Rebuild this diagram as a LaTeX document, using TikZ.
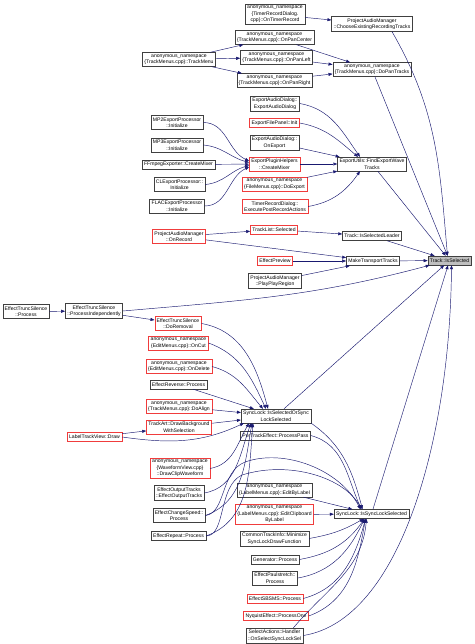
\documentclass[tikz,border=0pt]{standalone}
\usepackage{fontspec}
\setmainfont{Liberation Sans}
\usetikzlibrary{arrows.meta}
\definecolor{edgeblue}{HTML}{191970}
\definecolor{undocred}{HTML}{F03C3C}
\definecolor{cursel}{HTML}{BFBFBF}
\begin{document}
\begin{tikzpicture}[x=1pt, y=-1pt,
    fnbox/.style={draw=black!75, fill=white, line width=0.45pt, inner xsep=2pt, inner ysep=1.8pt,
      minimum height=9pt, align=center, font=\fontsize{5.1}{6.5}\selectfont},
    undoc/.style={fnbox, draw=undocred},
    calls/.style={draw=edgeblue, line width=0.45pt, -{Triangle[length=4pt,width=3pt]}}]
    \useasboundingbox (0,0) rectangle (474,644);

    % aufrufer oben
    \node[fnbox] (tmr) at (275,14.5) {anonymous\_namespace\\\{TimerRecordDialog.\\cpp\}::OnTimerRecord};
    \node[fnbox] (cert) at (372,24) {ProjectAudioManager\\::ChooseExistingRecordingTracks};
    \node[fnbox] (opc) at (274.5,37.5) {anonymous\_namespace\\\{TrackMenus.cpp\}::OnPanCenter};
    \node[fnbox] (tmn) at (179,59.5) {anonymous\_namespace\\\{TrackMenus.cpp\}::TrackMenu};
    \node[fnbox] (opl) at (276.5,57.5) {anonymous\_namespace\\\{TrackMenus.cpp\}::OnPanLeft};
    \node[fnbox] (opr) at (274.5,80.5) {anonymous\_namespace\\\{TrackMenus.cpp\}::OnPanRight};
    \node[fnbox] (dpt) at (372,69.5) {anonymous\_namespace\\\{TrackMenus.cpp\}::DoPanTracks};

    % export
    \node[fnbox] (ead) at (275,103.5) {ExportAudioDialog::\\ExportAudioDialog};
    \node[undoc] (efp) at (274.5,123) {ExportFilePanel::Init};
    \node[fnbox] (eoe) at (274.5,142.5) {ExportAudioDialog::\\OnExport};
    \node[fnbox] (mp2) at (177,122.5) {MP2ExportProcessor\\::Initialize};
    \node[fnbox] (mp3) at (177,145) {MP3ExportProcessor\\::Initialize};
    \node[fnbox] (ffm) at (178.5,164.5) {FFmpegExporter::CreateMixer};
    \node[fnbox] (cle) at (179.5,184.5) {CLExportProcessor::\\Initialize};
    \node[fnbox] (flac) at (177,206) {FLACExportProcessor\\::Initialize};
    \node[undoc] (eph) at (274.5,164) {ExportPluginHelpers\\::CreateMixer};
    \node[undoc] (fdx) at (274.5,184) {anonymous\_namespace\\\{FileMenus.cpp\}::DoExport};
    \node[undoc] (tep) at (275,206.5) {TimerRecordDialog::\\ExecutePostRecordActions};
    \node[fnbox] (few) at (372,164) {ExportUtils::FindExportWave\\Tracks};

    % wiedergabe / aufnahme
    \node[undoc] (orec) at (179,236.5) {ProjectAudioManager\\::OnRecord};
    \node[undoc] (tls) at (274,229.5) {TrackList::Selected};
    \node[fnbox] (isl) at (372,236) {Track::IsSelectedLeader};
    \node[undoc] (epv) at (275,261) {EffectPreview};
    \node[fnbox] (mtt) at (373,261) {MakeTransportTracks};
    \node[fnbox] (ppr) at (275,281) {ProjectAudioManager\\::PlayPlayRegion};
    \node[fnbox, fill=cursel] (iss) at (449.5,260.5) {Track::IsSelected};

    % effekte
    \node[fnbox] (tsp) at (26,311.5) {EffectTruncSilence\\::Process};
    \node[fnbox] (tsi) at (94,311) {EffectTruncSilence\\::ProcessIndependently};
    \node[undoc] (tsd) at (178,323.5) {EffectTruncSilence\\::DoRemoval};
    \node[undoc] (ocut) at (178.5,343) {anonymous\_namespace\\\{EditMenus.cpp\}::OnCut};
    \node[undoc] (odel) at (179,366.5) {anonymous\_namespace\\\{EditMenus.cpp\}::OnDelete};
    \node[fnbox] (erev) at (178.5,384.5) {EffectReverse::Process};
    \node[undoc] (dal) at (179,406.5) {anonymous\_namespace\\\{TrackMenus.cpp\}::DoAlign};
    \node[undoc] (tad) at (179,427) {TrackArt::DrawBackground\\WithSelection};
    \node[undoc] (ltv) at (94.5,437) {LabelTrackView::Draw};
    \node[undoc] (dcw) at (180,468.5) {anonymous\_namespace\\\{WaveformView.cpp\}\\::DrawClipWaveform};
    \node[fnbox] (eot) at (179,493) {EffectOutputTracks\\::EffectOutputTracks};
    \node[fnbox] (ecs) at (179,515.5) {EffectChangeSpeed::\\Process};
    \node[fnbox] (erp) at (178.5,536) {EffectRepeat::Process};
    \node[fnbox] (isos) at (276,416) {SyncLock::IsSelectedOrSync\\LockSelected};
    \node[fnbox] (ptp) at (275.5,435.5) {PerTrackEffect::ProcessPass};

    % sync lock
    \node[fnbox] (ebl) at (274.5,490) {anonymous\_namespace\\\{LabelMenus.cpp\}::EditByLabel};
    \node[undoc] (ecb) at (274.5,514.5) {anonymous\_namespace\\\{LabelMenus.cpp\}::EditClipboard\\ByLabel};
    \node[fnbox] (ctm) at (274.5,538.5) {CommonTrackInfo::Minimize\\SyncLockDrawFunction};
    \node[fnbox] (gen) at (275,559.5) {Generator::Process};
    \node[fnbox] (epa) at (275,578) {EffectPaulstretch::\\Process};
    \node[undoc] (esb) at (275,598.5) {EffectSBSMS::Process};
    \node[undoc] (nyq) at (276,616) {NyquistEffect::ProcessOne};
    \node[fnbox] (sas) at (274.5,635.5) {SelectActions::Handler\\::OnSelectSyncLockSel};
    \node[fnbox] (isl2) at (371.5,514) {SyncLock::IsSyncLockSelected};

    % kanten oben
    \draw[calls] (tmr) -- (cert);
    \draw[calls] ([xshift=20pt]cert.south) to[out=-60,in=95] ([xshift=-2pt]iss.north);
    \draw[calls] (tmn) -- (opc);
    \draw[calls] (tmn) -- (opl);
    \draw[calls] (tmn) -- (opr);
    \draw[calls] (opc) -- (dpt);
    \draw[calls] (opl) -- (dpt);
    \draw[calls] (opr) -- (dpt);
    \draw[calls] (dpt) -- (iss);

    % kanten export
    \draw[calls] (ead.east) to[out=-10,in=125] ([xshift=-12pt]few.north);
    \draw[calls] (efp.east) to[out=-10,in=140] ([xshift=-14pt]few.north);
    \draw[calls] (eoe) -- (few);
    \draw[calls] (eph) -- (few);
    \draw[calls] (fdx) -- (few);
    \draw[calls] (tep.east) to[out=10,in=-125] ([xshift=-12pt]few.south);
    \draw[calls] (mp2.east) to[out=0,in=155] ([yshift=3pt]eph.west);
    \draw[calls] (mp3.east) to[out=-5,in=165] ([yshift=1.5pt]eph.west);
    \draw[calls] (ffm) -- (eph);
    \draw[calls] (cle.east) to[out=5,in=-165] ([yshift=-1.5pt]eph.west);
    \draw[calls] (flac.east) to[out=0,in=-155] ([yshift=-3pt]eph.west);
    \draw[calls] (few) -- (iss);

    % kanten wiedergabe
    \draw[calls] (orec) -- (tls);
    \draw[calls] (orec) -- (mtt);
    \draw[calls] (tls) -- (isl);
    \draw[calls] (isl) -- (iss);
    \draw[calls] (epv) -- (mtt);
    \draw[calls] (ppr) -- (mtt);
    \draw[calls] (mtt) -- (iss);

    % kanten effekte
    \draw[calls] (tsp) -- (tsi);
    \draw[calls] (tsi.east) to[out=5,in=195] ([xshift=2pt]iss.south west);
    \draw[calls] (tsi) -- (tsd);
    \draw[calls] (tsd.east) to[out=-10,in=105] ([xshift=-8pt]isos.north);
    \draw[calls] (ocut.east) to[out=-20,in=115] ([xshift=-10pt]isos.north);
    \draw[calls] (odel.east) to[out=-15,in=130] ([xshift=-13pt]isos.north);
    \draw[calls] (erev) -- (isos);
    \draw[calls] (dal) -- (isos);
    \draw[calls] (tad) -- (isos);
    \draw[calls] (ltv) -- (tad);
    \draw[calls] (ltv.east) to[out=-8,in=205] ([xshift=3pt]isos.south west);
    \draw[calls] (dcw.east) to[out=10,in=-120] ([xshift=-27pt]isos.south);
    \draw[calls] (eot.east) to[out=10,in=-110] ([xshift=-25pt]isos.south);
    \draw[calls] (ecs.east) to[out=20,in=-100] ([xshift=-24pt]isos.south);
    \draw[calls] (erp.east) to[out=20,in=-95] ([xshift=-23pt]isos.south);
    \draw[calls] (isos) -- (iss);
    \draw[calls] (isos.south east) to[out=-35,in=105] ([xshift=-9pt]isl2.north);
    \draw[calls] (ptp.east) to[out=-15,in=115] ([xshift=-10pt]isl2.north);
    \draw[calls] (ecs.east) .. controls (226,513) and (220,472) .. (245,462)
        .. controls (285,448) and (340,470) .. ([xshift=-11pt]isl2.north);
    \draw[calls] (erp.east) .. controls (226,536) and (218,486) .. (242,475)
        .. controls (290,460) and (345,478) .. ([xshift=-10pt]isl2.north);

    % kanten sync lock
    \draw[calls] (ebl) -- (isl2);
    \draw[calls] (ecb) -- (isl2);
    \draw[calls] (ctm.east) to[out=10,in=-150] ([xshift=-8pt]isl2.south);
    \draw[calls] (gen.east) to[out=10,in=-125] ([xshift=-7pt]isl2.south);
    \draw[calls] (epa.east) to[out=10,in=-115] ([xshift=-7pt]isl2.south);
    \draw[calls] (esb.east) to[out=15,in=-105] ([xshift=-6pt]isl2.south);
    \draw[calls] (nyq.east) to[out=20,in=-100] ([xshift=-6pt]isl2.south);
    \draw[calls] ([xshift=-10pt]sas.north east) to[out=50,in=-95] ([xshift=-5pt]isl2.south);
    \draw[calls] (isl2) -- (iss);
    \draw[calls] (sas.east) .. controls (400,620) and (450,440) .. ([xshift=2pt]iss.south);
\end{tikzpicture}
\end{document}
